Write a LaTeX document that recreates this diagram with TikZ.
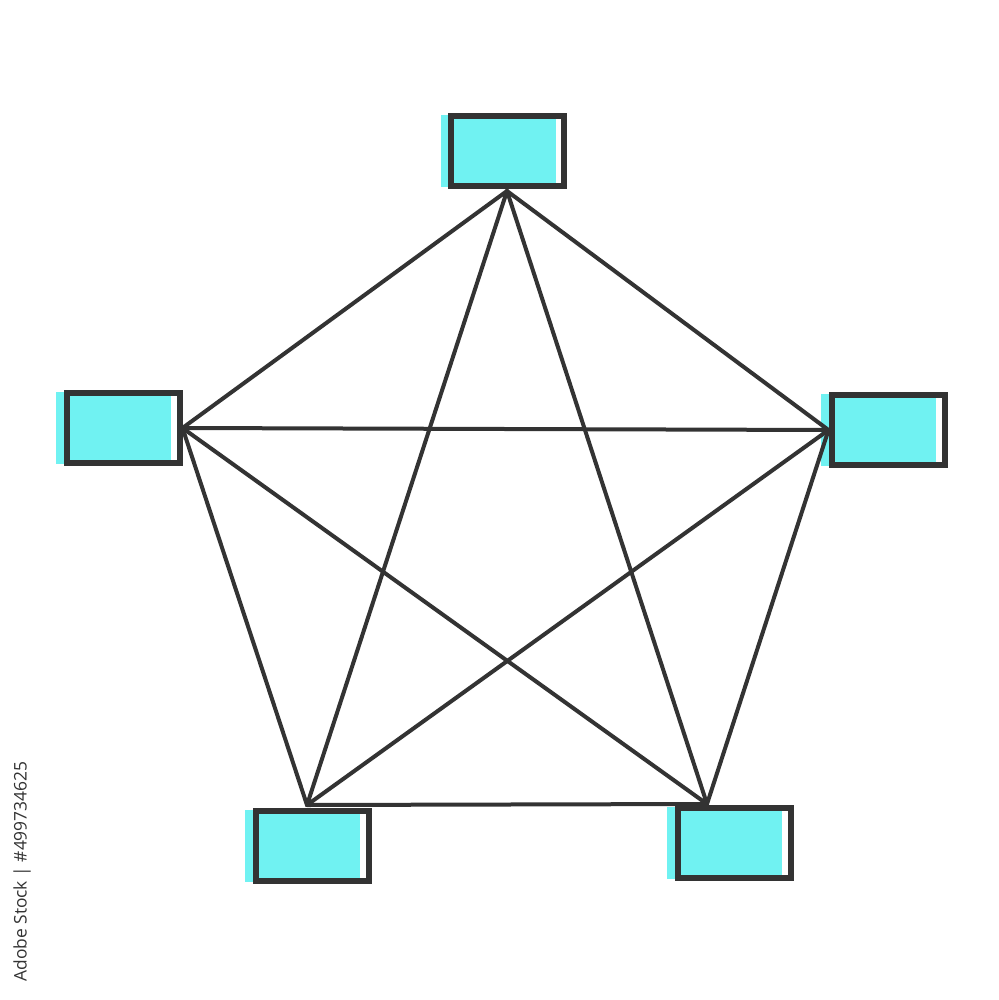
\documentclass[tikz,border=0pt]{standalone}
\usepackage{fontspec}
\newfontfamily\wmfont{Open Sans}
\usetikzlibrary{backgrounds}
\definecolor{linegray}{HTML}{333333}
\definecolor{cyanfill}{HTML}{70F2F2}
\begin{document}
\begin{tikzpicture}[x=0.5pt,y=-0.5pt,
  boxnode/.style={draw=linegray, line width=3pt, minimum width=56.5pt, minimum height=35pt, inner sep=0pt, outer sep=0pt},
  patch/.style={fill=cyanfill},
  link/.style={draw=linegray, line width=2pt, line cap=round},
  wm/.style={font=\wmfont\fontsize{8.7}{8.7}\selectfont, text=linegray, rotate=90, inner sep=0pt}]
\useasboundingbox (0,0) rectangle (998,1000);
% boxes
\node[boxnode] (top) at (507.5,151) {};
\node[boxnode] (lft) at (123,428) {};
\node[boxnode] (rgt) at (888,430) {};
\node[boxnode] (bl) at (312,846) {};
\node[boxnode] (br) at (734,843) {};
\begin{scope}[on background layer]
  \fill[white] (0,0) rectangle (998,1000);
  \foreach \b in {top,lft,rgt,bl,br}{
    \fill[patch] ([shift={(-67,-36)}]\b.center) rectangle ([shift={(48,36)}]\b.center);
  }
\end{scope}
% connection points
\coordinate (pt) at ([shift={(-0.5,5)}]top.south);
\coordinate (pl) at ([shift={(3,0)}]lft.east);
\coordinate (pr) at ([shift={(-3,0)}]rgt.west);
\coordinate (pbl) at ([shift={(-5,-6)}]bl.north);
\coordinate (pbr) at ([shift={(-27,-4)}]br.north);
% links (complete graph)
\draw[link] (pt) -- (pl);
\draw[link] (pt) -- (pr);
\draw[link] (pt) -- (pbl);
\draw[link] (pt) -- (pbr);
\draw[link] (pl) -- (pr);
\draw[link] (pl) -- (pbl);
\draw[link] (pl) -- (pbr);
\draw[link] (pr) -- (pbl);
\draw[link] (pr) -- (pbr);
\draw[link] (pbl) -- (pbr);
% watermark id
\node[wm, anchor=west] (id) at (22,982) {Adobe Stock | \#499734625};
\end{tikzpicture}
\end{document}
